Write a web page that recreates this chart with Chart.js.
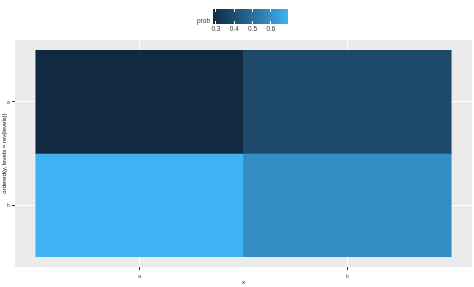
<!DOCTYPE html>
<html>
<head>
<meta charset="utf-8">
<script src="https://cdn.jsdelivr.net/npm/chart.js@4"></script>
<style>
body { margin: 0; background: #fff; font-family: "Liberation Sans", Arial, sans-serif; }
#wrap { position: relative; width: 474px; height: 287px; }
#c { position: absolute; left: 0; top: 0; }
.lg { position: absolute; font-size: 6.5px; color: #333; white-space: nowrap; line-height: 1; }
#bar { position: absolute; left: 213px; top: 9px; width: 75px; height: 15px; }
.mk { position: absolute; width: 1px; height: 3px; background: #fff; }
</style>
</head>
<body>
<div id="wrap">
  <canvas id="c" width="474" height="287"></canvas>
  <div class="lg" style="left:197px;top:18px">prob</div>
  <div id="bar"></div>
</div>
<script>
// data
var x_levels = ['a', 'b'];
var y_levels = ['a', 'b'];          // shown top to bottom (levels reversed)
var prob_row_a = [0.284, 0.386];    // y = a, for x = a, b
var prob_row_b = [0.693, 0.591];    // y = b, for x = a, b
var legend_ticks = [0.3, 0.4, 0.5, 0.6];

var LOW = '#112A42', HIGH = '#3EB2F3';

// gradient interpolated in Lab, like scale_fill_gradient
function hex2rgb(h) { return [1, 3, 5].map(function (i) { return parseInt(h.substr(i, 2), 16) / 255; }); }
function lin(c) { return c <= 0.04045 ? c / 12.92 : Math.pow((c + 0.055) / 1.055, 2.4); }
function unlin(c) { return c <= 0.0031308 ? 12.92 * c : 1.055 * Math.pow(c, 1 / 2.4) - 0.055; }
function rgb2lab(rgb) {
    var r = lin(rgb[0]), g = lin(rgb[1]), b = lin(rgb[2]);
    var X = (0.4124 * r + 0.3576 * g + 0.1805 * b) / 0.95047;
    var Y = (0.2126 * r + 0.7152 * g + 0.0722 * b);
    var Z = (0.0193 * r + 0.1192 * g + 0.9505 * b) / 1.08883;
    var f = function (t) { return t > 0.008856 ? Math.cbrt(t) : 7.787 * t + 16 / 116; };
    return [116 * f(Y) - 16, 500 * (f(X) - f(Y)), 200 * (f(Y) - f(Z))];
}
function lab2hex(lab) {
    var fy = (lab[0] + 16) / 116, fx = fy + lab[1] / 500, fz = fy - lab[2] / 200;
    var inv = function (t) { return t * t * t > 0.008856 ? t * t * t : (t - 16 / 116) / 7.787; };
    var X = inv(fx) * 0.95047, Y = inv(fy), Z = inv(fz) * 1.08883;
    var r = 3.2406 * X - 1.5372 * Y - 0.4986 * Z;
    var g = -0.9689 * X + 1.8758 * Y + 0.0415 * Z;
    var b = 0.0557 * X - 0.2040 * Y + 1.0570 * Z;
    return '#' + [r, g, b].map(function (c) {
        var v = Math.round(Math.max(0, Math.min(1, unlin(c))) * 255);
        return (v < 16 ? '0' : '') + v.toString(16);
    }).join('');
}
var labLo = rgb2lab(hex2rgb(LOW)), labHi = rgb2lab(hex2rgb(HIGH));
var all = prob_row_a.concat(prob_row_b);
var vmin = Math.min.apply(null, all), vmax = Math.max.apply(null, all);
function colourOf(v) {
    var t = (v - vmin) / (vmax - vmin);
    return lab2hex(labLo.map(function (c, i) { return c + (labHi[i] - c) * t; }));
}

// colourbar legend
var bar = document.getElementById('bar');
var barW = 75;
var stops = [];
for (var i = 0; i <= 20; i++) stops.push(colourOf(vmin + (vmax - vmin) * i / 20) + ' ' + (i * 5) + '%');
bar.style.background = 'linear-gradient(to right,' + stops.join(',') + ')';
legend_ticks.forEach(function (v) {
    var px = (v - vmin) / (vmax - vmin) * barW;
    var t = document.createElement('div'); t.className = 'mk'; t.style.left = (px - 0.5) + 'px'; t.style.top = '0px'; bar.appendChild(t);
    var b = document.createElement('div'); b.className = 'mk'; b.style.left = (px - 0.5) + 'px'; b.style.top = '12px'; bar.appendChild(b);
    var l = document.createElement('div'); l.className = 'lg'; l.innerText = v.toFixed(1);
    l.style.left = (213 + px - 5) + 'px'; l.style.top = '26px'; l.style.width = '10px'; l.style.textAlign = 'center';
    document.getElementById('wrap').appendChild(l);
});

// tiles: x and y positions are 1..n like ggplot discrete scales
function rowData(probs, level) {
    var yPos = y_levels.length - y_levels.indexOf(level);
    return probs.map(function (p, i) { return { x: i + 1, y: [yPos - 0.5, yPos + 0.5] }; });
}

var panelBg = {
    id: 'panelBg',
    beforeDraw: function (chart) {
        var a = chart.chartArea, ctx = chart.ctx;
        ctx.save();
        ctx.fillStyle = '#EBEBEB';
        ctx.fillRect(a.left, a.top, a.right - a.left, a.bottom - a.top);
        ctx.restore();
    }
};

var tickFont = { family: '"Liberation Sans", Arial, sans-serif', size: 6 };

new Chart(document.getElementById('c'), {
    type: 'bar',
    data: {
        datasets: [
            { label: 'a', data: rowData(prob_row_a, 'a'), backgroundColor: prob_row_a.map(colourOf), grouped: false, borderWidth: 0, barPercentage: 1, categoryPercentage: 1 },
            { label: 'b', data: rowData(prob_row_b, 'b'), backgroundColor: prob_row_b.map(colourOf), grouped: false, borderWidth: 0, barPercentage: 1, categoryPercentage: 1 }
        ]
    },
    options: {
        responsive: false,
        animation: false,
        layout: { padding: { top: 40, left: 0, right: 2, bottom: 0 } },
        plugins: { legend: { display: false }, tooltip: { enabled: false } },
        scales: {
            x: {
                type: 'linear', min: 0.4, max: x_levels.length + 0.6, offset: false,
                afterBuildTicks: function (s) { s.ticks = x_levels.map(function (l, i) { return { value: i + 1 }; }); },
                afterFit: function (s) { s.height = 20; },
                ticks: { callback: function (v) { return x_levels[v - 1]; }, font: tickFont, color: '#666666', padding: 3, maxRotation: 0 },
                grid: { offset: false, color: '#FFFFFF', lineWidth: 1, tickLength: 3, tickColor: '#333333' },
                border: { display: false },
                title: { display: true, text: 'x', font: { family: tickFont.family, size: 6 }, color: '#000', padding: { top: 0, bottom: 1 } }
            },
            y: {
                type: 'linear', min: 0.4, max: y_levels.length + 0.6,
                afterBuildTicks: function (s) { s.ticks = y_levels.map(function (l, i) { return { value: y_levels.length - i }; }); },
                afterFit: function (s) { s.width = 15; },
                ticks: { callback: function (v) { return y_levels[y_levels.length - v]; }, font: tickFont, color: '#666666', padding: 2 },
                grid: { color: '#FFFFFF', lineWidth: 1, tickLength: 3, tickColor: '#333333' },
                border: { display: false },
                title: { display: true, text: 'ordered(y, levels = rev(levels))', font: { family: tickFont.family, size: 6 }, color: '#000', padding: { top: 1, bottom: 0 } }
            }
        }
    },
    plugins: [panelBg]
});
</script>
</body>
</html>
